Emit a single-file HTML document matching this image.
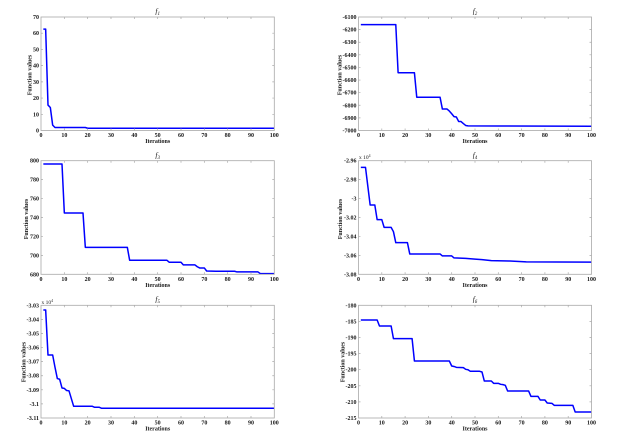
<!DOCTYPE html>
<html>
<head>
<meta charset="utf-8">
<style>
html,body{margin:0;padding:0;background:#fff;}
svg{display:block;}
text{font-family:"Liberation Serif",serif;font-weight:bold;font-size:6px;fill:#1a1a1a;}
.ax{fill:none;stroke:#a8a8a8;stroke-width:0.8;}
.tk{fill:none;stroke:#a8a8a8;stroke-width:0.7;}
.yl text{text-anchor:end;}
.xl text{text-anchor:middle;}
.ttl{font-style:italic;font-weight:normal;font-size:7.5px;text-anchor:middle;}
.d{fill:none;stroke:#0000ff;stroke-width:1.5;stroke-linejoin:round;vector-effect:non-scaling-stroke;}
.lab{text-anchor:middle;}
.mul{font-weight:normal;font-size:5.5px;}
</style>
</head>
<body>
<svg width="627" height="441" viewBox="0 0 627 441" xmlns="http://www.w3.org/2000/svg">
<rect width="627" height="441" fill="#fff"/>

<!-- f1 -->
<g transform="translate(41,17)">
  <path class="d" transform="translate(0,113.5) scale(2.333,-1.6214)" d="M1 62.5L2 62.5L3 15.7L4 14.2L5 3.3L6 1.86L19 1.86L20 1.4L100 1.4"/>
  <rect class="ax" x="0" y="0" width="233.3" height="113.5"/>
  <path class="tk" d="M23.33 113.5v-2M46.67 113.5v-2M70 113.5v-2M93.33 113.5v-2M116.67 113.5v-2M140 113.5v-2M163.33 113.5v-2M186.67 113.5v-2M210 113.5v-2M23.33 0v2M46.67 0v2M70 0v2M93.33 0v2M116.67 0v2M140 0v2M163.33 0v2M186.67 0v2M210 0v2M0 97.29h2M0 81.07h2M0 64.86h2M0 48.64h2M0 32.43h2M0 16.21h2M233.3 97.29h-2M233.3 81.07h-2M233.3 64.86h-2M233.3 48.64h-2M233.3 32.43h-2M233.3 16.21h-2"/>
  <g class="yl">
    <text x="-2" y="115.5">0</text><text x="-2" y="99.29">10</text><text x="-2" y="83.07">20</text><text x="-2" y="66.86">30</text><text x="-2" y="50.64">40</text><text x="-2" y="34.43">50</text><text x="-2" y="18.21">60</text><text x="-2" y="2">70</text>
  </g>
  <g class="xl">
    <text x="0" y="120">0</text><text x="23.33" y="120">10</text><text x="46.67" y="120">20</text><text x="70" y="120">30</text><text x="93.33" y="120">40</text><text x="116.67" y="120">50</text><text x="140" y="120">60</text><text x="163.33" y="120">70</text><text x="186.67" y="120">80</text><text x="210" y="120">90</text><text x="233.3" y="120">100</text>
  </g>
  <text class="lab" x="116.7" y="126">Iterations</text>
  <text class="lab" transform="translate(-9.7,58) rotate(-90)">Function values</text>
  <text class="ttl" x="116.7" y="-3.5">f<tspan font-size="5" dy="1.5">1</tspan></text>
</g>

<!-- f2 -->
<g transform="translate(358.5,17)">
  <path class="d" transform="translate(0,113.5) scale(2.33,-0.12611)" d="M1 840L16 840L17 458L24 458L25 264L35 264L36 170L38 170L39 154L40 133L41 110L42 107L43 71L44 71L45 55L46 40L47 37L60 36L100 34"/>
  <rect class="ax" x="0" y="0" width="233" height="113.5"/>
  <path class="tk" d="M23.3 113.5v-2M46.6 113.5v-2M69.9 113.5v-2M93.2 113.5v-2M116.5 113.5v-2M139.8 113.5v-2M163.1 113.5v-2M186.4 113.5v-2M209.7 113.5v-2M23.3 0v2M46.6 0v2M69.9 0v2M93.2 0v2M116.5 0v2M139.8 0v2M163.1 0v2M186.4 0v2M209.7 0v2M0 100.89h2M0 88.28h2M0 75.67h2M0 63.06h2M0 50.44h2M0 37.83h2M0 25.22h2M0 12.61h2M233 100.89h-2M233 88.28h-2M233 75.67h-2M233 63.06h-2M233 50.44h-2M233 37.83h-2M233 25.22h-2M233 12.61h-2"/>
  <g class="yl">
    <text x="-2" y="115.5">-7000</text><text x="-2" y="102.89">-6900</text><text x="-2" y="90.28">-6800</text><text x="-2" y="77.67">-6700</text><text x="-2" y="65.06">-6600</text><text x="-2" y="52.44">-6500</text><text x="-2" y="39.83">-6400</text><text x="-2" y="27.22">-6300</text><text x="-2" y="14.61">-6200</text><text x="-2" y="2">-6100</text>
  </g>
  <g class="xl">
    <text x="0" y="120">0</text><text x="23.3" y="120">10</text><text x="46.6" y="120">20</text><text x="69.9" y="120">30</text><text x="93.2" y="120">40</text><text x="116.5" y="120">50</text><text x="139.8" y="120">60</text><text x="163.1" y="120">70</text><text x="186.4" y="120">80</text><text x="209.7" y="120">90</text><text x="233" y="120">100</text>
  </g>
  <text class="lab" x="116.5" y="126">Iterations</text>
  <text class="lab" transform="translate(-17.2,58) rotate(-90)">Function values</text>
  <text class="ttl" x="116.5" y="-3.5">f<tspan font-size="5" dy="1.5">2</tspan></text>
</g>

<!-- f3 -->
<g transform="translate(41,160.7)">
  <path class="d" transform="translate(0,113.6) scale(2.333,-0.94667)" d="M1 116.5L9 116.5L10 64.8L18 64.8L19 28.5L37 28.5L38 14.8L54 14.8L55 12.7L60 12.7L61 9.9L66 9.9L67 8L68 6.7L70 6.7L71 3.5L75 3.2L83 3.2L84 2.5L93 2.5L94 0.7L100 0.7"/>
  <rect class="ax" x="0" y="0" width="233.3" height="113.6"/>
  <path class="tk" d="M23.33 113.6v-2M46.67 113.6v-2M70 113.6v-2M93.33 113.6v-2M116.67 113.6v-2M140 113.6v-2M163.33 113.6v-2M186.67 113.6v-2M210 113.6v-2M23.33 0v2M46.67 0v2M70 0v2M93.33 0v2M116.67 0v2M140 0v2M163.33 0v2M186.67 0v2M210 0v2M0 94.67h2M0 75.73h2M0 56.8h2M0 37.87h2M0 18.93h2M233.3 94.67h-2M233.3 75.73h-2M233.3 56.8h-2M233.3 37.87h-2M233.3 18.93h-2"/>
  <g class="yl">
    <text x="-2" y="115.6">680</text><text x="-2" y="96.67">700</text><text x="-2" y="77.73">720</text><text x="-2" y="58.8">740</text><text x="-2" y="39.87">760</text><text x="-2" y="20.93">780</text><text x="-2" y="2">800</text>
  </g>
  <g class="xl">
    <text x="0" y="120.1">0</text><text x="23.33" y="120.1">10</text><text x="46.67" y="120.1">20</text><text x="70" y="120.1">30</text><text x="93.33" y="120.1">40</text><text x="116.67" y="120.1">50</text><text x="140" y="120.1">60</text><text x="163.33" y="120.1">70</text><text x="186.67" y="120.1">80</text><text x="210" y="120.1">90</text><text x="233.3" y="120.1">100</text>
  </g>
  <text class="lab" x="116.7" y="126.1">Iterations</text>
  <text class="lab" transform="translate(-13,58.3) rotate(-90)">Function values</text>
  <text class="ttl" x="116.7" y="-3.2">f<tspan font-size="5" dy="1.5">3</tspan></text>
</g>

<!-- f4 -->
<g transform="translate(358.5,160.7)">
  <path class="d" transform="translate(0,113.6) scale(2.33,-0.94667)" d="M1 113L3 113L5 73.2L7 73.2L8 57.7L10 57.7L11 49.6L14 49.6L15 45L16 33.4L21 33.4L22 21.5L35 21.5L36 19.4L40 19.4L41 17.3L46 16.8L50 16L53 15.5L57 14.4L65 14L72 13.1L85 13L100 12.8"/>
  <rect class="ax" x="0" y="0" width="233" height="113.6"/>
  <path class="tk" d="M23.3 113.6v-2M46.6 113.6v-2M69.9 113.6v-2M93.2 113.6v-2M116.5 113.6v-2M139.8 113.6v-2M163.1 113.6v-2M186.4 113.6v-2M209.7 113.6v-2M23.3 0v2M46.6 0v2M69.9 0v2M93.2 0v2M116.5 0v2M139.8 0v2M163.1 0v2M186.4 0v2M209.7 0v2M0 94.67h2M0 75.73h2M0 56.8h2M0 37.87h2M0 18.93h2M233 94.67h-2M233 75.73h-2M233 56.8h-2M233 37.87h-2M233 18.93h-2"/>
  <g class="yl">
    <text x="-2" y="115.6">-3.08</text><text x="-2" y="96.67">-3.06</text><text x="-2" y="77.73">-3.04</text><text x="-2" y="58.8">-3.02</text><text x="-2" y="39.87">-3</text><text x="-2" y="20.93">-2.98</text><text x="-2" y="2">-2.96</text>
  </g>
  <text class="mul" x="0.5" y="-1.5">x 10<tspan font-size="3.8" dy="-2">4</tspan></text>
  <g class="xl">
    <text x="0" y="120.1">0</text><text x="23.3" y="120.1">10</text><text x="46.6" y="120.1">20</text><text x="69.9" y="120.1">30</text><text x="93.2" y="120.1">40</text><text x="116.5" y="120.1">50</text><text x="139.8" y="120.1">60</text><text x="163.1" y="120.1">70</text><text x="186.4" y="120.1">80</text><text x="209.7" y="120.1">90</text><text x="233" y="120.1">100</text>
  </g>
  <text class="lab" x="116.5" y="126.1">Iterations</text>
  <text class="lab" transform="translate(-16.5,58.3) rotate(-90)">Function values</text>
  <text class="ttl" x="116.5" y="-3.2">f<tspan font-size="5" dy="1.5">4</tspan></text>
</g>

<!-- f5 -->
<g transform="translate(41,305.3)">
  <path class="d" transform="translate(0,112.7) scale(2.333,-1.40875)" d="M1 76.7L2 76.7L3 44.7L5 44.7L6 36L7 28L8 27.5L9 21.3L10 21L11 19.5L12 19.3L14 8.3L22 8.3L23 7.6L25 7.6L26 6.9L100 6.9"/>
  <rect class="ax" x="0" y="0" width="233.3" height="112.7"/>
  <path class="tk" d="M23.33 112.7v-2M46.67 112.7v-2M70 112.7v-2M93.33 112.7v-2M116.67 112.7v-2M140 112.7v-2M163.33 112.7v-2M186.67 112.7v-2M210 112.7v-2M23.33 0v2M46.67 0v2M70 0v2M93.33 0v2M116.67 0v2M140 0v2M163.33 0v2M186.67 0v2M210 0v2M0 98.61h2M0 84.53h2M0 70.44h2M0 56.35h2M0 42.26h2M0 28.18h2M0 14.09h2M233.3 98.61h-2M233.3 84.53h-2M233.3 70.44h-2M233.3 56.35h-2M233.3 42.26h-2M233.3 28.18h-2M233.3 14.09h-2"/>
  <g class="yl">
    <text x="-2" y="114.7">-3.11</text><text x="-2" y="100.61">-3.1</text><text x="-2" y="86.53">-3.09</text><text x="-2" y="72.44">-3.08</text><text x="-2" y="58.35">-3.07</text><text x="-2" y="44.26">-3.06</text><text x="-2" y="30.18">-3.05</text><text x="-2" y="16.09">-3.04</text><text x="-2" y="2">-3.03</text>
  </g>
  <text class="mul" x="0.5" y="-1.5">x 10<tspan font-size="3.8" dy="-2">4</tspan></text>
  <g class="xl">
    <text x="0" y="119.2">0</text><text x="23.33" y="119.2">10</text><text x="46.67" y="119.2">20</text><text x="70" y="119.2">30</text><text x="93.33" y="119.2">40</text><text x="116.67" y="119.2">50</text><text x="140" y="119.2">60</text><text x="163.33" y="119.2">70</text><text x="186.67" y="119.2">80</text><text x="210" y="119.2">90</text><text x="233.3" y="119.2">100</text>
  </g>
  <text class="lab" x="116.7" y="125.2">Iterations</text>
  <text class="lab" transform="translate(-15.7,56.7) rotate(-90)">Function values</text>
  <text class="ttl" x="116.7" y="-4">f<tspan font-size="5" dy="1.5">5</tspan></text>
</g>

<!-- f6 -->
<g transform="translate(358.5,305.3)">
  <path class="d" transform="translate(0,112.7) scale(2.33,-3.22)" d="M1 30.44L8 30.44L9 28.58L14 28.58L15 24.64L23 24.64L24 17.7L39 17.7L40 16.15L41 16L42 15.74L45 15.64L46 15.12L47 15L48 14.5L52 14.5L53 14.29L54 11.49L57 11.49L58 10.77L60 10.77L61 10.46L62 10.36L63 10.15L64 8.39L73 8.39L74 6.73L77 6.73L78 5.59L80 5.59L81 4.66L83 4.56L84 3.93L92 3.93L93 1.86L100 1.86"/>
  <rect class="ax" x="0" y="0" width="233" height="112.7"/>
  <path class="tk" d="M23.3 112.7v-2M46.6 112.7v-2M69.9 112.7v-2M93.2 112.7v-2M116.5 112.7v-2M139.8 112.7v-2M163.1 112.7v-2M186.4 112.7v-2M209.7 112.7v-2M23.3 0v2M46.6 0v2M69.9 0v2M93.2 0v2M116.5 0v2M139.8 0v2M163.1 0v2M186.4 0v2M209.7 0v2M0 96.6h2M0 80.5h2M0 64.4h2M0 48.3h2M0 32.2h2M0 16.1h2M233 96.6h-2M233 80.5h-2M233 64.4h-2M233 48.3h-2M233 32.2h-2M233 16.1h-2"/>
  <g class="yl">
    <text x="-2" y="114.7">-215</text><text x="-2" y="98.6">-210</text><text x="-2" y="82.5">-205</text><text x="-2" y="66.4">-200</text><text x="-2" y="50.3">-195</text><text x="-2" y="34.2">-190</text><text x="-2" y="18.1">-185</text><text x="-2" y="2">-180</text>
  </g>
  <g class="xl">
    <text x="0" y="119.2">0</text><text x="23.3" y="119.2">10</text><text x="46.6" y="119.2">20</text><text x="69.9" y="119.2">30</text><text x="93.2" y="119.2">40</text><text x="116.5" y="119.2">50</text><text x="139.8" y="119.2">60</text><text x="163.1" y="119.2">70</text><text x="186.4" y="119.2">80</text><text x="209.7" y="119.2">90</text><text x="233" y="119.2">100</text>
  </g>
  <text class="lab" x="116.5" y="125.2">Iterations</text>
  <text class="lab" transform="translate(-14.2,56.7) rotate(-90)">Function values</text>
  <text class="ttl" x="116.5" y="-4">f<tspan font-size="5" dy="1.5">6</tspan></text>
</g>

</svg>
</body>
</html>
